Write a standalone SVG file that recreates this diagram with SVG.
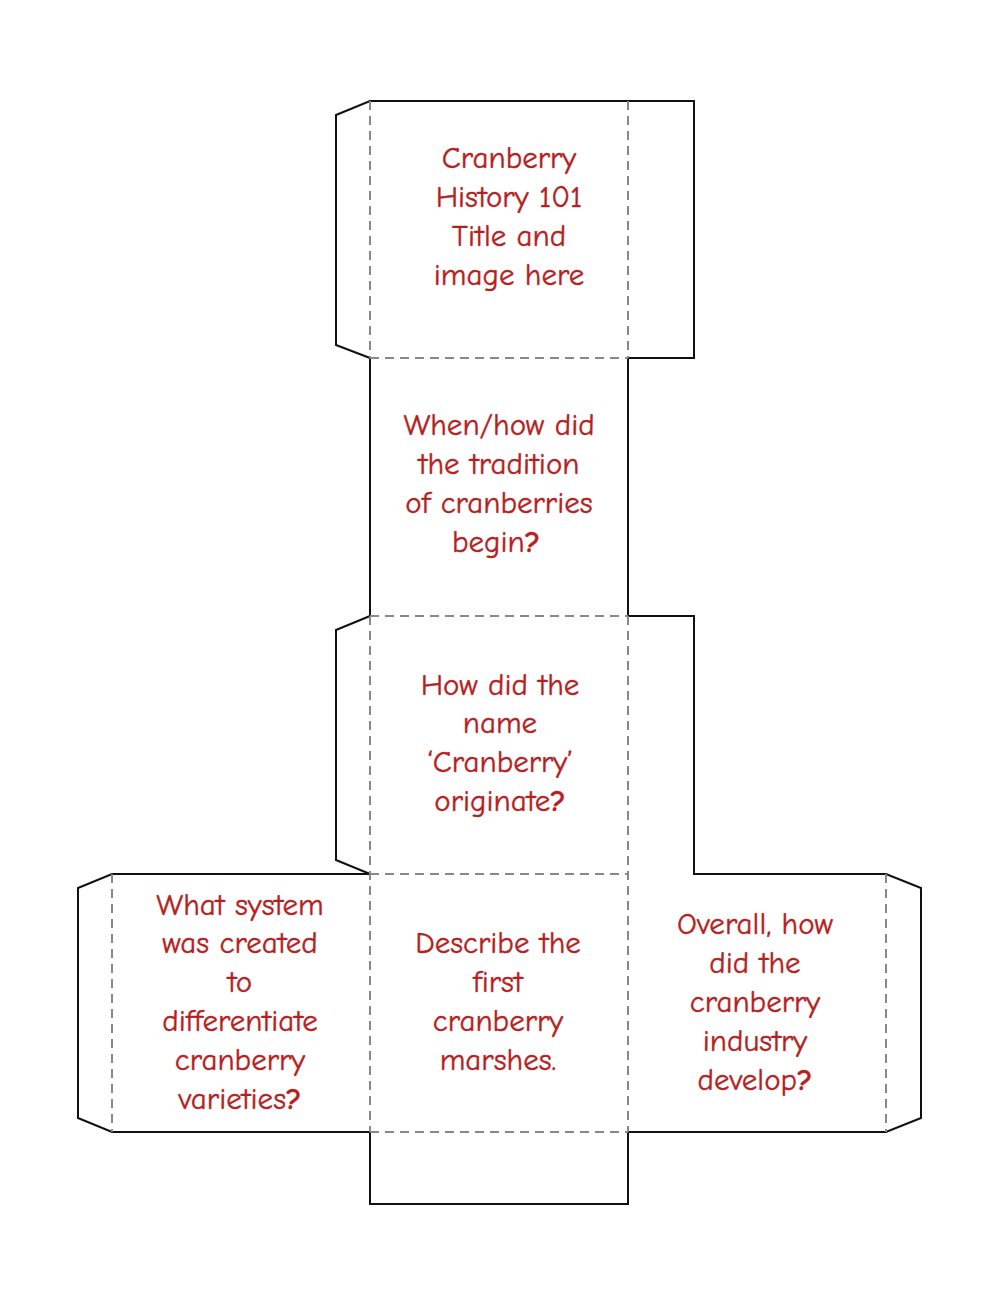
<svg xmlns="http://www.w3.org/2000/svg" width="1000" height="1294" viewBox="0 0 1000 1294">
<style>
.o{fill:none;stroke:#111;stroke-width:2}
.d{fill:none;stroke:#888;stroke-width:2;stroke-dasharray:9 6}
text{font-family:"Comic Neue","Lato","Liberation Sans",sans-serif;font-size:31px;fill:#b51f1f;text-anchor:middle;stroke:#b51f1f;stroke-width:0.4}
.b{font-weight:bold}
</style>
<rect width="1000" height="1294" fill="#fff"/>
<g id="connectors">
<path class="o" d="M370,101 L694,101 L694,358 L628,358 L628,616 L694,616 L694,874 L886,874 L921,888 L921,1118 L886,1132 L628,1132 L628,1204 L370,1204 L370,1132 L112,1132 L78,1118 L78,888 L112,874 L370,874 L336,860 L336,630 L370,616 L370,358 L336,345 L336,115 Z"/>
<path class="d" d="M370,101V358 M628,101V358 M370,358H628 M370,616H628 M370,616V1132 M628,616V1132 M370,874H628 M370,1132H628 M112,874V1132 M886,874V1132"/>
</g>
<g id="face-top"><text x="509" y="168">Cranberry</text><text x="509" y="207">History 101</text><text x="509" y="246">Title and</text><text x="509" y="285">image here</text></g>
<g id="face-2"><text x="499" y="435">When/how did</text><text x="499" y="474">the tradition</text><text x="499" y="513">of cranberries</text><text x="496" y="552">begin<tspan class="b">?</tspan></text></g>
<g id="face-3"><text x="500" y="695">How did the</text><text x="500" y="733">name</text><text x="500" y="772">‘Cranberry’</text><text x="500" y="811">originate<tspan class="b">?</tspan></text></g>
<g id="face-left"><text x="240" y="915">What system</text><text x="240" y="953">was created</text><text x="240" y="992">to</text><text x="240" y="1031">differentiate</text><text x="240" y="1070">cranberry</text><text x="240" y="1109">varieties<tspan class="b">?</tspan></text></g>
<g id="face-mid"><text x="498" y="953">Describe the</text><text x="498" y="992">first</text><text x="498" y="1031">cranberry</text><text x="498" y="1070">marshes.</text></g>
<g id="face-right"><text x="755" y="934">Overall, how</text><text x="755" y="973">did the</text><text x="755" y="1012">cranberry</text><text x="755" y="1051">industry</text><text x="755" y="1090">develop<tspan class="b">?</tspan></text></g>
</svg>
